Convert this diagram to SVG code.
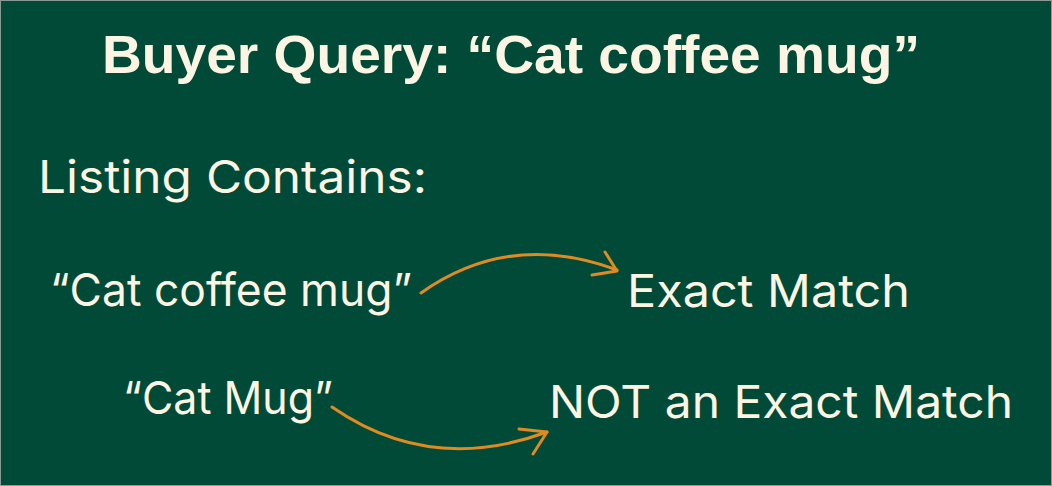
<svg xmlns="http://www.w3.org/2000/svg" width="1052" height="486" viewBox="0 0 1052 486">
<defs>
<style>
.t{fill:#fcf5e3}
.title{font-family:"Liberation Sans",Arial,sans-serif;font-weight:bold;font-size:54px}
.lbl{font-family:Inter,"Liberation Sans",Arial,sans-serif;font-size:45px}
.c{fill:none;stroke:#e08a22;stroke-width:3;stroke-linecap:round;stroke-linejoin:round}
</style>
</defs>
<rect x="0.5" y="0.5" width="1051" height="485" fill="#014a37" stroke="#8a9a94" stroke-width="1"/>
<g id="title"><text class="t title" x="102" y="73" textLength="818" lengthAdjust="spacingAndGlyphs">Buyer Query: “Cat coffee mug”</text></g>
<g id="heading"><text class="t lbl" x="38" y="193" textLength="389" lengthAdjust="spacingAndGlyphs">Listing Contains:</text></g>
<g id="q1"><text class="t lbl" x="50" y="306" textLength="362" lengthAdjust="spacingAndGlyphs">“Cat coffee mug”</text></g>
<g id="r1"><text class="t lbl" x="627" y="307" textLength="283" lengthAdjust="spacingAndGlyphs">Exact Match</text></g>
<g id="q2"><text class="t lbl" x="123" y="414" textLength="210" lengthAdjust="spacingAndGlyphs">“Cat Mug”</text></g>
<g id="r2"><text class="t lbl" x="549" y="418" textLength="464" lengthAdjust="spacingAndGlyphs">NOT an Exact Match</text></g>
<g id="connectors">
<path class="c" d="M421,293 Q510,230 617,270"/>
<path class="c" d="M605,252 L617,271 L592,275"/>
<path class="c" d="M332,407 Q430,475 547,432"/>
<path class="c" d="M519,429 L547,432 L533,454"/>
</g>
</svg>
